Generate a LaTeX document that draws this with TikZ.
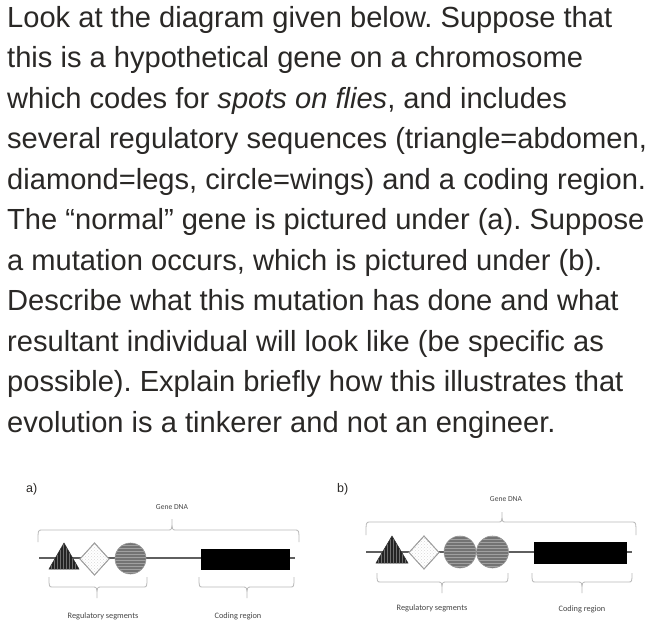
\documentclass[tikz,border=0pt]{standalone}
\usepackage{fontspec}
\setmainfont{Liberation Sans}
\newfontfamily\calib{Carlito}
\usetikzlibrary{patterns}
\frenchspacing
\definecolor{txt}{RGB}{42,40,38}
\definecolor{lbl}{RGB}{70,70,70}
\definecolor{brc}{RGB}{185,185,185}
\definecolor{dna}{RGB}{95,95,95}
\definecolor{trifill}{RGB}{35,35,35}
\definecolor{tristripe}{RGB}{110,110,110}
\definecolor{circfill}{RGB}{115,115,115}
\definecolor{circstripe}{RGB}{160,160,160}
\newcommand\genebrace[6]{%
  % #1 x1, #2 x2, #3 xm, #4 yh, #5 yend, #6 ytip
  \draw[bracestyle] (#1,#5) .. controls (#1,#4) and (#1,#4) .. ({#1+4},#4)
    -- ({#3-4},#4) .. controls (#3,#4) and (#3,#4) .. (#3,#6)
    .. controls (#3,#4) and (#3,#4) .. ({#3+4},#4)
    -- ({#2-4},#4) .. controls (#2,#4) and (#2,#4) .. (#2,#5);}
\tikzset{
  qline/.style={anchor=base west, inner sep=0pt, text=txt, font=\fontsize{29.1}{34}\selectfont},
  panel/.style={anchor=base west, inner sep=0pt, text=txt, font=\fontsize{12.5}{14}\selectfont},
  smalllbl/.style={inner sep=0pt, text=lbl, font=\calib\fontsize{8.3}{10}\selectfont},
  toplbl/.style={inner sep=0pt, text=lbl, font=\calib\fontsize{7.6}{9}\selectfont},
  bracestyle/.style={draw=brc, line width=0.8pt},
  dnaline/.style={draw=dna, line width=1.3pt},
  tri/.style={fill=trifill},
  tripat/.style={pattern=vertical lines, pattern color=tristripe},
  dia/.style={fill=white, draw=gray!75, line width=0.8pt},
  diapat/.style={pattern=crosshatch dots, pattern color=gray!30},
  circ/.style={fill=circfill},
  circpat/.style={pattern=horizontal lines, pattern color=circstripe},
  coding/.style={fill=black, draw=black}
}
\begin{document}
\begin{tikzpicture}[x=1pt,y=-1pt]
\useasboundingbox[fill=white] (0,0) rectangle (651,624);
% question text
\node[qline] (l1) at (7,27) {Look at the diagram given below. Suppose that};
\node[qline] (l2) at (7,67.5) {this is a hypothetical gene on a chromosome};
\node[qline] (l3) at (7,108) {which codes for \textit{spots on flies}, and includes};
\node[qline] (l4) at (7,148.5) {several regulatory sequences (triangle=abdomen,};
\node[qline] (l5) at (7,189) {diamond=legs, circle=wings) and a coding region.};
\node[qline] (l6) at (7,229.5) {The “normal” gene is pictured under (a). Suppose};
\node[qline] (l7) at (7,270) {a mutation occurs, which is pictured under (b).};
\node[qline] (l8) at (7,310.5) {Describe what this mutation has done and what};
\node[qline] (l9) at (7,351) {resultant individual will look like (be specific as};
\node[qline] (l10) at (7,391.5) {possible). Explain briefly how this illustrates that};
\node[qline] (l11) at (7,432) {evolution is a tinkerer and not an engineer.};

% ---------- panel a ----------
\node[panel] (pa) at (26,492) {a)};
\node[toplbl] (gda) at (172,507) {Gene DNA};
\genebrace{38}{299}{172}{530}{542}{519}
\draw[dnaline] (39,558) -- (295,558);
\fill[tri] (49,569) -- (79,569) -- (64,543) -- cycle;
\fill[tripat] (49,569) -- (79,569) -- (64,543) -- cycle;
\draw[black!80, line width=0.5pt] (49,569) -- (79,569) -- (64,543) -- cycle;
\filldraw[dia] (80,559) -- (94.5,543) -- (109,559) -- (94.5,575) -- cycle;
\fill[diapat] (80,559) -- (94.5,543) -- (109,559) -- (94.5,575) -- cycle;
\draw[gray!75, line width=0.8pt] (80,559) -- (94.5,543) -- (109,559) -- (94.5,575) -- cycle;
\fill[circ] (130.5,558.5) circle (15.5);
\fill[circpat] (130.5,558.5) circle (15.5);
\draw[gray!80, line width=0.6pt] (130.5,558.5) circle (15.5);
\filldraw[coding] (201,549) rectangle (289,569);
\genebrace{49}{147}{97}{587}{577}{598}
\genebrace{199}{294}{247}{587}{577}{598}
\node[smalllbl] (rsa) at (103,616) {Regulatory segments};
\node[smalllbl] (cra) at (238,616) {Coding region};

% ---------- panel b ----------
\node[panel] (pb) at (337,492) {b)};
\node[toplbl] (gdb) at (506,499) {Gene DNA};
\genebrace{366}{636}{502}{522}{535}{512}
\draw[dnaline] (366,552) -- (632,552);
\fill[tri] (376,563) -- (408,563) -- (392,536) -- cycle;
\fill[tripat] (376,563) -- (408,563) -- (392,536) -- cycle;
\draw[black!80, line width=0.5pt] (376,563) -- (408,563) -- (392,536) -- cycle;
\filldraw[dia] (409,552.5) -- (424,536) -- (439,552.5) -- (424,569) -- cycle;
\fill[diapat] (409,552.5) -- (424,536) -- (439,552.5) -- (424,569) -- cycle;
\draw[gray!75, line width=0.8pt] (409,552.5) -- (424,536) -- (439,552.5) -- (424,569) -- cycle;
\fill[circ] (460,552) circle (16);
\fill[circpat] (460,552) circle (16);
\draw[gray!80, line width=0.6pt] (460,552) circle (16);
\fill[circ] (492.5,552) circle (16);
\fill[circpat] (492.5,552) circle (16);
\draw[gray!80, line width=0.6pt] (492.5,552) circle (16);
\filldraw[coding] (534,542) rectangle (626,563);
\genebrace{377}{508}{442}{582}{573}{593}
\genebrace{532}{632}{582}{582}{573}{593}
\node[smalllbl] (rsb) at (432,608) {Regulatory segments};
\node[smalllbl] (crb) at (582,609) {Coding region};
\end{tikzpicture}
\end{document}
